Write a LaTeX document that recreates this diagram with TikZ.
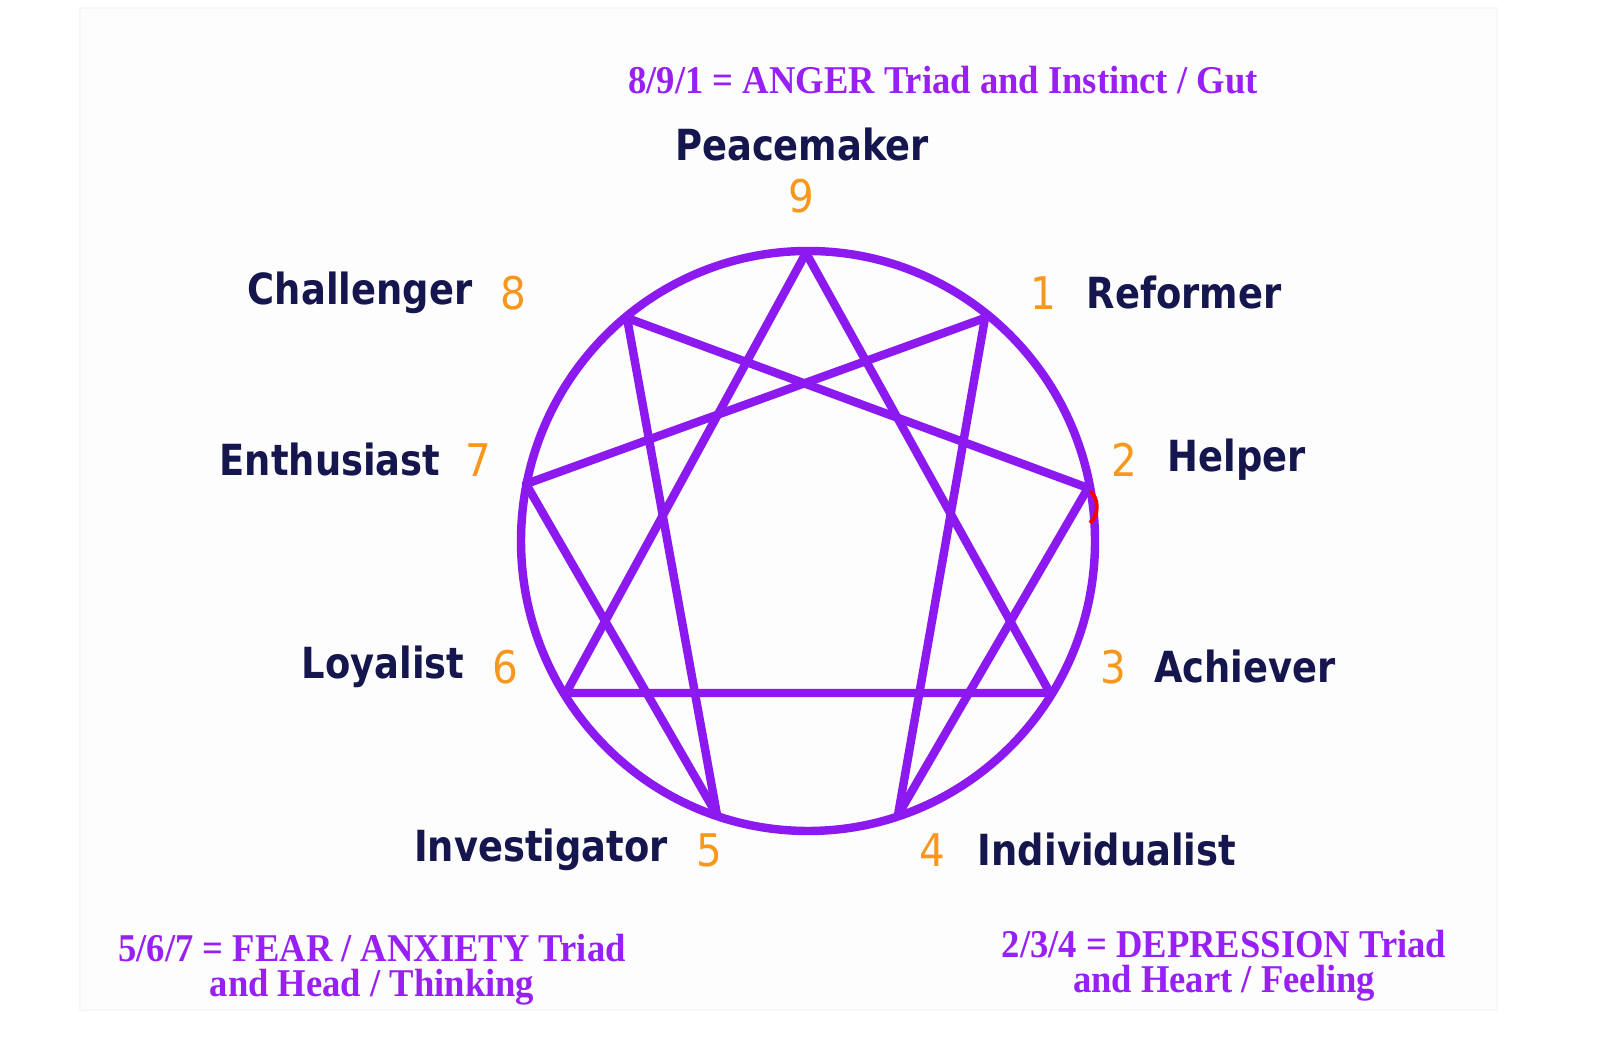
\documentclass[tikz,border=0pt]{standalone}
\usepackage{fontspec}
\usepackage{tkz-euclide}

\newfontfamily\etiquetafont[FakeStretch=0.86]{DejaVu Sans}
\newfontfamily\numerofont[FakeStretch=0.9]{DejaVu Sans}
\newfontfamily\triadafont[FakeStretch=0.93]{Liberation Serif}

\definecolor{morado}{RGB}{140,26,240}
\definecolor{moradotexto}{RGB}{152,32,245}
\definecolor{naranja}{RGB}{247,152,29}
\definecolor{marino}{RGB}{22,22,78}

\tikzset{
    linea/.style={line width=2.4pt, color=morado, line join=round},
    etiqueta/.style={font=\etiquetafont\bfseries\fontsize{12.2}{14}\selectfont, text=marino, inner sep=0pt},
    numero/.style={font=\numerofont\fontsize{12.8}{14}\selectfont, text=naranja, inner sep=0pt},
    triada/.style={font=\triadafont\bfseries\fontsize{11.2}{10}\selectfont, text=moradotexto, align=center, inner sep=0pt}
}

\begin{document}
\begin{tikzpicture}
        % Marco y fondo.
        \useasboundingbox (0,0) rectangle (16,10.4);
        \fill[white] (0,0) rectangle (16,10.4);
        \filldraw[fill=black!0.8, draw=black!3] (0.80,0.30) rectangle (14.97,10.32);

        % Define los nueve puntos del eneagrama.
        \tkzDefPoints{
            9.85/7.22/P1,
            10.88/5.52/P2,
            10.50/3.47/P3,
            8.98/2.25/P4,
            7.17/2.25/P5,
            5.66/3.47/P6,
            5.26/5.56/P7,
            6.27/7.22/P8,
            8.06/7.87/P9%
        }

        % Dibuja el circulo.
        \draw[linea] (8.08,4.99) ellipse (2.87 and 2.90);

        % Dibuja el triangulo y la hexada.
        \tkzDrawPolygon[linea](P9,P3,P6)
        \tkzDrawSegments[linea](P1,P4 P4,P2 P2,P8 P8,P5 P5,P7 P7,P1)

        % Marca roja junto al punto 2.
        \draw[red, line width=1.1pt] (10.90,5.49) .. controls (10.99,5.42) and (10.99,5.24) .. (10.90,5.17);

        % Numeros de cada tipo.
        \node[numero] (n9) at (8.01,8.44) {9};
        \node[numero] (n1) at (10.43,7.47) {1};
        \node[numero] (n2) at (11.24,5.80) {2};
        \node[numero] (n3) at (11.13,3.73) {3};
        \node[numero] (n4) at (9.32,1.90) {4};
        \node[numero] (n5) at (7.09,1.90) {5};
        \node[numero] (n6) at (5.05,3.73) {6};
        \node[numero] (n7) at (4.78,5.80) {7};
        \node[numero] (n8) at (5.13,7.47) {8};

        % Nombres de cada tipo.
        \node[etiqueta] (peacemaker) at (8.02,8.95) {Peacemaker};
        \node[etiqueta] (reformer) at (11.84,7.47) {Reformer};
        \node[etiqueta] (helper) at (12.37,5.80) {Helper};
        \node[etiqueta] (achiever) at (12.45,3.73) {Achiever};
        \node[etiqueta] (individualist) at (11.07,1.90) {Individualist};
        \node[etiqueta] (investigator) at (5.41,1.90) {Investigator};
        \node[etiqueta] (loyalist) at (3.83,3.73) {Loyalist};
        \node[etiqueta] (enthusiast) at (3.30,5.80) {Enthusiast};
        \node[etiqueta] (challenger) at (3.60,7.47) {Challenger};

        % Triadas.
        \node[triada] (ira) at (9.43,9.60) {8/9/1 = ANGER Triad and Instinct / Gut};
        \node[triada] (miedo) at (3.72,0.70) {5/6/7 = FEAR / ANXIETY Triad\\and Head / Thinking};
        \node[triada] (depresion) at (12.24,0.74) {2/3/4 = DEPRESSION Triad\\and Heart / Feeling};
    \end{tikzpicture}
\end{document}
